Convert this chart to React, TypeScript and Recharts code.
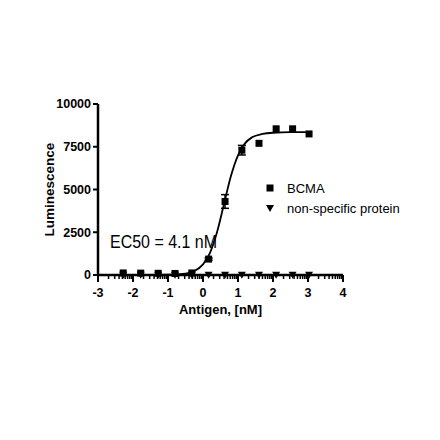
import React from 'react'
import { ComposedChart, Line, Scatter, XAxis, YAxis, ErrorBar } from 'recharts'

// log10 antigen concentration (3-fold dilution series)
const LOG_CONC = [-2.28, -1.78, -1.28, -0.8, -0.32, 0.16, 0.63, 1.11, 1.6, 2.09, 2.56, 3.03]
const BCMA = [120, 110, 100, 90, 120, 930, 4300, 7300, 7700, 8550, 8550, 8250]
const BCMA_ERR = [0, 0, 0, 0, 0, 60, 400, 280, 0, 0, 0, 0]
const NON_SPECIFIC = [20, 10, 20, 20, 10, 20, 20, 10, 20, 10, 20, 10]

// fitted curve
const FIT_X = [-2.28, -1.5, -1.0, -0.5, -0.25, 0, 0.2, 0.4, 0.6, 0.8, 1.0, 1.2, 1.4, 1.7, 2.0, 2.5, 3.03]
const FIT_Y = [0, 5, 20, 85, 230, 620, 1300, 2500, 4150, 5800, 7000, 7700, 8050, 8250, 8320, 8350, 8350]

const X_MAJOR = [-3, -2, -1, 0, 1, 2, 3, 4]
const X_MINOR_OFFSETS = [0.301, 0.477, 0.602, 0.699, 0.778, 0.845, 0.903, 0.954]
const Y_TICKS = [0, 2500, 5000, 7500, 10000]

const xTicks = [
  ...X_MAJOR,
  ...X_MAJOR.slice(0, -1).flatMap((d) => X_MINOR_OFFSETS.map((o) => d + o)),
].sort((a, b) => a - b)

const bcmaData = LOG_CONC.map((x, i) => ({ x, y: BCMA[i], err: BCMA_ERR[i] }))
const nonSpecData = LOG_CONC.map((x, i) => ({ x, y: NON_SPECIFIC[i] }))
const fitData = FIT_X.map((x, i) => ({ x, y: FIT_Y[i] }))

const FONT = '"Liberation Sans", Arial, sans-serif'

function XTick({ x, y, payload }: any) {
  const v = payload.value
  const major = Math.abs(v - Math.round(v)) < 1e-6
  return (
    <g>
      <line x1={x} x2={x} y1={y} y2={y + (major ? 7 : 4)} stroke="#000" strokeWidth={major ? 2 : 1.5} />
      {major && (
        <text x={x} y={y + 22} textAnchor="middle" fontSize={12.5} fontWeight="bold" fill="#000" fontFamily={FONT}>
          {Math.round(v)}
        </text>
      )}
    </g>
  )
}

function Square({ cx, cy }: any) {
  return <rect x={cx - 3.5} y={cy - 3.5} width={7} height={7} fill="#000" />
}

function TriangleDown({ cx, cy }: any) {
  return <path d={`M${cx - 4},${cy - 3} L${cx + 4},${cy - 3} L${cx},${cy + 4} Z`} fill="#000" />
}

export default function App() {
  return (
    <div style={{ position: 'absolute', left: 0, top: 0, width: 440, height: 440, background: '#fff', fontFamily: FONT }}>
      <ComposedChart width={440} height={440} margin={{ top: 104, right: 97, left: 0, bottom: 105 }}>
        <XAxis
          type="number"
          dataKey="x"
          domain={[-3, 4]}
          ticks={xTicks}
          interval={0}
          tickSize={0}
          tickMargin={0}
          tickLine={false}
          tick={<XTick />}
          height={60}
          axisLine={{ stroke: '#000', strokeWidth: 2.5 }}
          label={{ value: 'Antigen, [nM]', position: 'insideTop', offset: 30, fontSize: 13, fontWeight: 'bold', fill: '#000' }}
        />
        <YAxis
          type="number"
          dataKey="y"
          domain={[0, 10000]}
          ticks={Y_TICKS}
          width={98}
          tickSize={5}
          tickMargin={2}
          tickLine={{ stroke: '#000', strokeWidth: 2 }}
          axisLine={{ stroke: '#000', strokeWidth: 2.5 }}
          tick={{ fill: '#000', fontSize: 12.5, fontWeight: 'bold' }}
          label={{ value: 'Luminescence', position: 'center', angle: -90, fontSize: 13.5, fontWeight: 'bold', fill: '#000' }}
        />
        <Line data={fitData} dataKey="y" type="monotone" stroke="#000" strokeWidth={1.8} dot={false} isAnimationActive={false} />
        <Scatter data={nonSpecData} dataKey="y" shape={<TriangleDown />} isAnimationActive={false} />
        <Scatter data={bcmaData} dataKey="y" shape={<Square />} isAnimationActive={false}>
          <ErrorBar dataKey="err" direction="y" width={4} stroke="#000" strokeWidth={1.5} />
        </Scatter>
      </ComposedChart>
      <svg width={440} height={440} style={{ position: 'absolute', left: 0, top: 0, pointerEvents: 'none' }}>
        <text x={110} y={248} fontSize={16} fill="#000" fontFamily={FONT} transform="translate(0 248) scale(1 1.1) translate(0 -248)">
          EC50 = 4.1 nM
        </text>
        <rect x={266.5} y={184.5} width={7} height={7} fill="#000" />
        <text x={287} y={193} fontSize={13} fill="#000" fontFamily={FONT}>
          BCMA
        </text>
        <path d="M266,205 L274,205 L270,212 Z" fill="#000" />
        <text x={287} y={213} fontSize={13} fill="#000" fontFamily={FONT}>
          non-specific protein
        </text>
      </svg>
    </div>
  )
}
